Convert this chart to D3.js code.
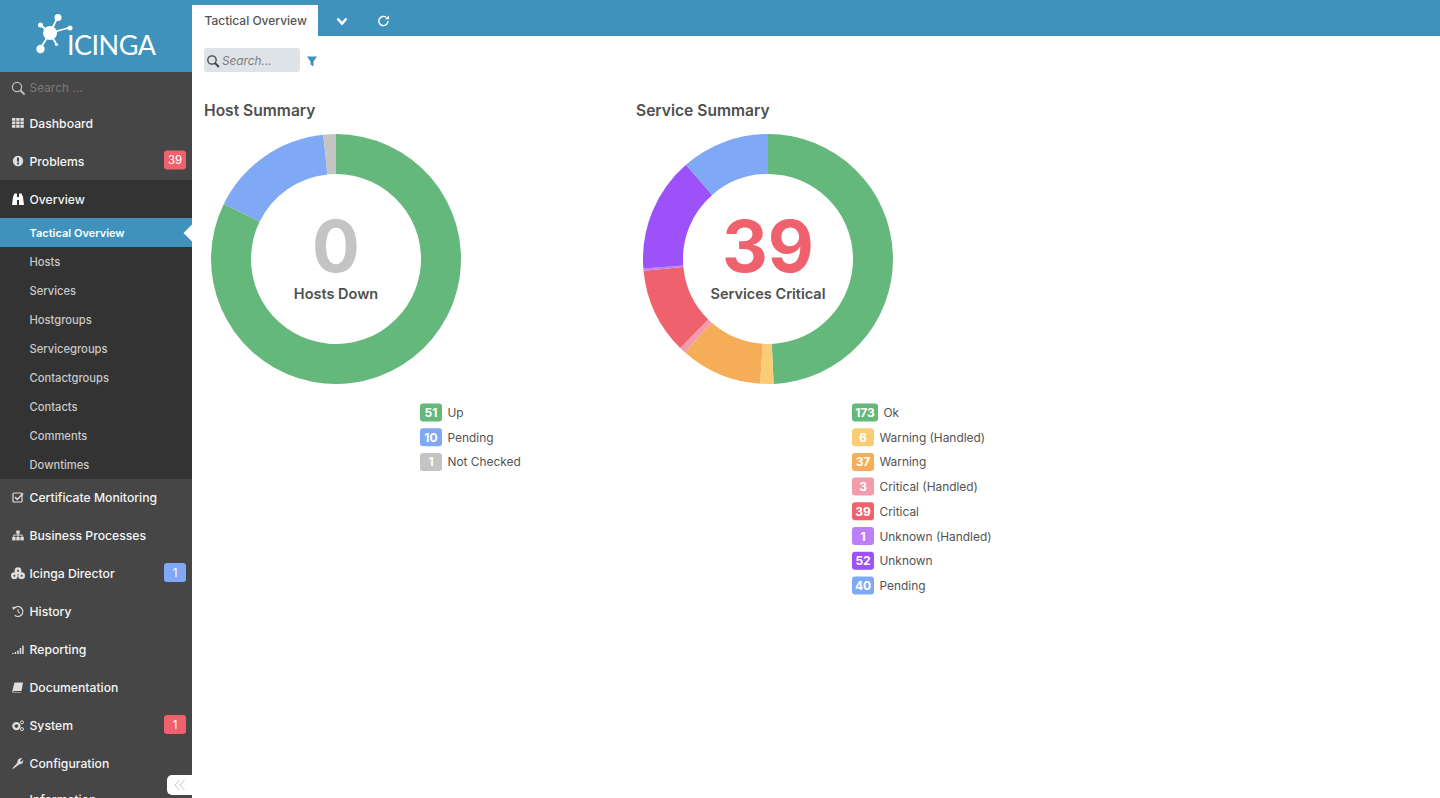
<!DOCTYPE html>
<html><head><meta charset="utf-8">
<script src="https://cdn.jsdelivr.net/npm/d3@7/dist/d3.min.js"></script>
<style>
html,body{margin:0;padding:0;background:#fff;overflow:hidden}
svg{display:block;font-family:Inter,"Noto Sans",sans-serif}
</style></head><body><svg id="c" width="1440" height="798"></svg>
<script>
// ---- data ----
const hostLabels = ["Up","Pending","Not Checked"];
const hostValues = [51,10,1];
const hostColors = ["#65b87c","#7fa9f5","#c4c4c4"];
const serviceLabels = ["Ok","Warning (Handled)","Warning","Critical (Handled)","Critical","Unknown (Handled)","Unknown","Pending"];
const serviceValues = [173,6,37,3,39,1,52,40];
const serviceColors = ["#65b87c","#f9cd76","#f5ad58","#f29cab","#ef626d","#bd7ff8","#9d51f8","#7fa9f5"];
const hostsDown = 0, servicesCritical = 39;
const mainNavTop = ["Dashboard","Problems","Overview"];
const subNav = ["Tactical Overview","Hosts","Services","Hostgroups","Servicegroups","Contactgroups","Contacts","Comments","Downtimes"];
const mainNavBottom = ["Certificate Monitoring","Business Processes","Icinga Director","History","Reporting","Documentation","System","Configuration"];

const svg = d3.select("#c");

// ---- top bar ----
const BLUE = "#3e92bc";
svg.append("rect").attr("x",192).attr("y",0).attr("width",1248).attr("height",36).attr("fill",BLUE);
svg.append("rect").attr("x",192).attr("y",5).attr("width",126).attr("height",31).attr("fill","#fff");
svg.append("text").attr("x",204.5).attr("y",25).attr("font-size",12).attr("font-weight",500).attr("fill","#535353").text("Tactical Overview");
svg.append("path").attr("d","M337.5 18.5l4.5 5l4.5-5").attr("fill","none").attr("stroke","#fff").attr("stroke-width",2.6);
svg.append("path").attr("d","M388 21a4.6 4.6 0 1 1-1.6-3.5").attr("fill","none").attr("stroke","#fff").attr("stroke-width",1.4);
svg.append("path").attr("d","M389 15.4v3.8h-3.8z").attr("fill","#fff");

// ---- sidebar ----
svg.append("rect").attr("width",192).attr("height",798).attr("fill","#464646");
svg.append("rect").attr("width",192).attr("height",72).attr("fill",BLUE);
const logo = svg.append("g").attr("fill","#fff").attr("stroke","#fff");
["M50 33L57.5 17.5","M50 33L40.5 25","M50 33L70 27.5","M50 33L40 49","M50 33L56.5 44.5"].forEach(d=>logo.append("path").attr("d",d).attr("stroke-width",1.8));
[[50,33,7],[58,17.5,3.5],[40.5,25,2.5],[70,28,2.5],[40.5,49,4.2],[56.5,44.5,1.6]].forEach(c=>logo.append("circle").attr("cx",c[0]).attr("cy",c[1]).attr("r",c[2]).attr("stroke","none"));
svg.append("text").attr("x",67).attr("y",55).attr("font-size",27).attr("font-weight",400).attr("fill","#fff").attr("textLength",89).attr("font-family","Lato, Inter, sans-serif").text("ICINGA");

// search in sidebar
function lens(x,y,col,r){const g=svg.append("g").attr("fill","none").attr("stroke",col);
  g.append("circle").attr("cx",x).attr("cy",y).attr("r",r).attr("stroke-width",1.3);
  g.append("path").attr("d",`M${x+r*0.7} ${y+r*0.7}l${r*0.95} ${r*0.95}`).attr("stroke-width",2);}
lens(17,87,"#bdbdbd",4.6);
svg.append("text").attr("x",29.5).attr("y",92).attr("font-size",11.9).attr("fill","#7a7a7a").text("Search ...");

const LABEL_X = 29.5;
const navText = (t,y,opts={}) => svg.append("text").attr("x",LABEL_X).attr("y",y+(opts.dy||4.5)).attr("font-size",opts.size||12.2)
  .attr("font-weight",opts.weight||500).attr("fill",opts.fill||"#f2f2f2").text(t);

function badge(y,txt,col){
  svg.append("rect").attr("x",164).attr("y",y-9.5).attr("width",22).attr("height",19).attr("rx",3).attr("fill",col);
  svg.append("text").attr("x",175).attr("y",y+4).attr("text-anchor","middle").attr("font-size",11.5).attr("fill","#fff").text(txt);
}
const icon = (name,cx,cy)=>{
  const g=svg.append("g").attr("transform",`translate(${cx},${cy})`).attr("fill","#dedede").attr("stroke","none");
  if(name==="Dashboard"){d3.range(3).forEach(i=>d3.range(3).forEach(j=>g.append("rect").attr("x",-6+i*4.2).attr("y",-5+j*3.5).attr("width",3.4).attr("height",2.8)));}
  if(name==="Problems"){g.append("circle").attr("r",5.2);g.append("rect").attr("x",-1).attr("y",-3.4).attr("width",2).attr("height",4).attr("fill","#444");g.append("rect").attr("x",-1).attr("y",1.6).attr("width",2).attr("height",1.8).attr("fill","#444");}
  if(name==="Overview"){g.attr("fill","#fff");g.append("path").attr("d","M-6 6L-5 -2L-3.5 -5.5H-1V6ZM6 6L5 -2L3.5 -5.5H1V6Z");g.append("rect").attr("x",-1).attr("y",-2).attr("width",2).attr("height",3);}
  if(name==="Certificate Monitoring"){g.append("rect").attr("x",-5).attr("y",-4.5).attr("width",9).attr("height",9).attr("rx",1).attr("fill","none").attr("stroke","#dedede").attr("stroke-width",1.2);g.append("path").attr("d","M-3 -0.5L-0.7 2L5 -4").attr("fill","none").attr("stroke","#dedede").attr("stroke-width",1.5);}
  if(name==="Business Processes"){g.append("rect").attr("x",-1.7).attr("y",-5).attr("width",3.4).attr("height",3.2);[-5.8,-1.7,2.4].forEach(x=>g.append("rect").attr("x",x).attr("y",1.5).attr("width",3.4).attr("height",3.4));g.append("path").attr("d","M-4.2 1.5V-0.5H4.2V1.5M0 -2V1.5").attr("fill","none").attr("stroke","#dedede");}
  if(name==="Icinga Director"){[[0,-2.8],[-3.6,2.2],[3.6,2.2]].forEach(p=>{g.append("circle").attr("cx",p[0]).attr("cy",p[1]).attr("r",3.4);g.append("circle").attr("cx",p[0]).attr("cy",p[1]).attr("r",1).attr("fill","#444");});}
  if(name==="History"){g.append("path").attr("d","M-3.6 -3.4A4.9 4.9 0 1 1 -3.2 3.8").attr("fill","none").attr("stroke","#dedede").attr("stroke-width",1.3);g.append("path").attr("d","M-5.6 -4.8L-1.6 -4.6L-4.8 -1.4Z");g.append("path").attr("d","M0 -2.4V0.4L2 1.4").attr("fill","none").attr("stroke","#dedede");}
  if(name==="Reporting"){[1,2,3.5,6,8.5].forEach((h,i)=>g.append("rect").attr("x",-5.8+i*2.5).attr("y",4.5-h).attr("width",1.5).attr("height",h));}
  if(name==="Documentation"){g.append("path").attr("d","M-3.5 -5H5L3.5 3.5H-3.5Q-5.5 3.5 -5 5H3.5L3 5.5H-4.5Q-6 5.5 -5.6 3Z");}
  if(name==="System"){g.append("circle").attr("cx",-1.6).attr("cy",0.6).attr("r",3).attr("fill","none").attr("stroke","#dedede").attr("stroke-width",2.4);g.append("circle").attr("cx",4).attr("cy",-3.2).attr("r",1.5).attr("fill","none").attr("stroke","#dedede");g.append("circle").attr("cx",4).attr("cy",3.6).attr("r",1.5).attr("fill","none").attr("stroke","#dedede");}
  if(name==="Configuration"){g.append("path").attr("d","M-5 5.5L-5.6 4.8L-0.6 -0.8Q-1 -3.8 1.5 -5Q3 -5.6 4.4 -5.2L2 -2.8L3 -1.4L5.3 -3.4Q5.6 0.4 1 1Z");}
};

// overview block background
svg.append("rect").attr("x",0).attr("y",180).attr("width",192).attr("height",299).attr("fill","#333");
svg.append("rect").attr("x",0).attr("y",218).attr("width",192).attr("height",29).attr("fill",BLUE);
svg.append("path").attr("d","M192 224.5L183.5 233L192 241.5Z").attr("fill","#fff");

const yTop = d3.scalePoint().domain(mainNavTop).range([123,199]);
mainNavTop.forEach(n=>{icon(n,18,yTop(n));navText(n,yTop(n),{fill:"#f5f5f5"});});
badge(160,"39","#ef626d");

const ySub = d3.scalePoint().domain(subNav).range([233,465]);
subNav.forEach((n,i)=>navText(n,ySub(n),{dy:4,size:i?11.2:11,fill:i?"#c9c9c9":"#fff",weight:i?500:600}));

const yBot = d3.scalePoint().domain(mainNavBottom).range([497.5,763.5]);
mainNavBottom.forEach(n=>{icon(n,18,yBot(n));navText(n,yBot(n),{fill:"#f5f5f5"});});
badge(yBot("Icinga Director")-1,"1","#7fa9f5");
badge(yBot("System")-1,"1","#ef626d");
// next entry, cut by the window edge as in the source, and collapse button
svg.append("text").attr("x",LABEL_X).attr("y",804).attr("font-size",12.2).attr("font-weight",500).attr("fill","#f5f5f5").text("Information");
svg.append("path").attr("d","M167 780a5 5 0 0 1 5-5h20v20h-20a5 5 0 0 1-5-5z").attr("fill","#fff");
svg.append("path").attr("d","M179.5 780l-4.5 5l4.5 5M184.5 780l-4.5 5l4.5 5").attr("fill","none").attr("stroke","#c5c5c5").attr("stroke-width",1);

// ---- search bar ----
svg.append("rect").attr("x",204).attr("y",48).attr("width",96).attr("height",24).attr("rx",3).attr("fill","#dde3e7");
lens(212,60,"#444",4.2);
svg.append("text").attr("x",222).attr("y",65).attr("font-size",11.8).attr("font-style","italic").attr("fill","#7d7d7d").text("Search...");
svg.append("path").attr("d","M307 56.5H317L313.5 61.5V66.5L310.5 64.5V61.5Z").attr("fill",BLUE);

// ---- donuts ----
function summary(cfg){
  svg.append("text").attr("x",cfg.titleX).attr("y",116).attr("font-size",15.6).attr("font-weight",600).attr("fill","#4f4f4f").text(cfg.title);
  const pie = d3.pie().sort(null).value(d=>d.value);
  const arc = d3.arc().innerRadius(85).outerRadius(125);
  const rows = cfg.labels.map((l,i)=>({label:l,value:cfg.values[i],color:cfg.colors[i]}));
  const g = svg.append("g").attr("transform",`translate(${cfg.cx},259)`);
  g.selectAll("path").data(pie(rows)).join("path").attr("d",arc).attr("fill",d=>d.data.color);
  g.append("text").attr("text-anchor","middle").attr("y",13).attr("font-size",71).attr("font-weight",700).attr("fill",cfg.numberColor).text(cfg.number);
  g.append("text").attr("text-anchor","middle").attr("y",40).attr("font-size",14.5).attr("font-weight",600).attr("fill","#4f4f4f").text(cfg.caption);
  const y = d3.scaleLinear().domain([0,1]).range([412.5,437.2]);
  const lg = svg.append("g").selectAll("g").data(rows).join("g").attr("transform",(d,i)=>`translate(${cfg.legendX},${y(i)})`);
  const w = d=>String(d.value).length>2?26:22;
  lg.append("rect").attr("x",0).attr("y",-9).attr("width",w).attr("height",18).attr("rx",3).attr("fill",d=>d.color);
  lg.append("text").attr("x",d=>w(d)/2).attr("y",4.5).attr("text-anchor","middle").attr("font-size",12).attr("font-weight",700).attr("fill","#fff").text(d=>d.value);
  lg.append("text").attr("x",d=>w(d)+5.5).attr("y",4.5).attr("font-size",11.9).attr("fill","#535353").text(d=>d.label);
}
summary({title:"Host Summary",titleX:204,cx:336,labels:hostLabels,values:hostValues,colors:hostColors,number:hostsDown,numberColor:"#c4c4c4",caption:"Hosts Down",legendX:420});
summary({title:"Service Summary",titleX:636,cx:768,labels:serviceLabels,values:serviceValues,colors:serviceColors,number:servicesCritical,numberColor:"#ef626d",caption:"Services Critical",legendX:852});
</script></body></html>
